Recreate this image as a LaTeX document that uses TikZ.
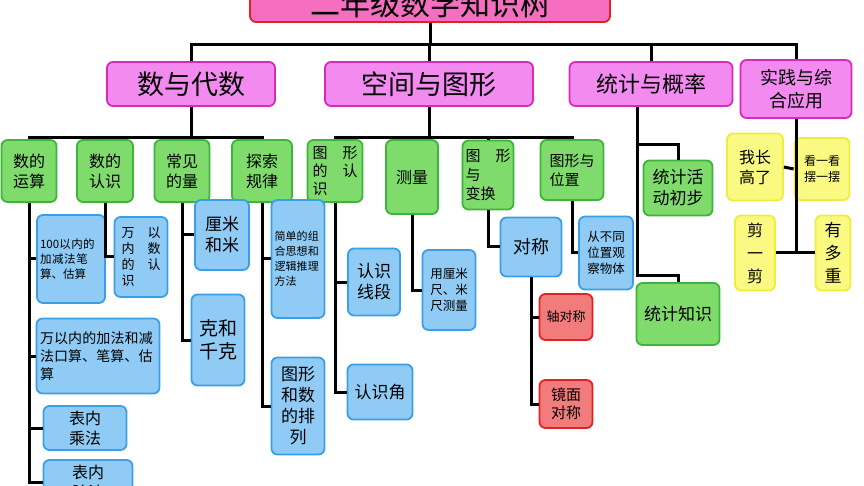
\documentclass[tikz,border=0pt]{standalone}
\usepackage{fontspec}
\setmainfont{Noto Sans CJK SC}
\XeTeXlinebreaklocale "zh"
\XeTeXlinebreakskip=0pt plus 1pt
\usetikzlibrary{positioning}
\definecolor{lgreen}{HTML}{7FDB6C}
\definecolor{dgreen}{HTML}{3DB53A}
\definecolor{lblue}{HTML}{8FCBF5}
\definecolor{dblue}{HTML}{3A9FE6}
\definecolor{lred}{HTML}{F27C7C}
\definecolor{dred}{HTML}{E02222}
\definecolor{lyel}{HTML}{FAFA82}
\definecolor{dyel}{HTML}{EEEE3A}
\definecolor{lmag}{HTML}{F28AF0}
\definecolor{dmag}{HTML}{D82AB8}
\tikzset{
  box/.style={rounded corners=6pt,line width=1.8pt,align=center,inner sep=1pt,font=\fontsize{16}{20}\selectfont},
  topbox/.style={box,fill=lmag,draw=dmag,font=\fontsize{27}{30}\selectfont},
  greenbox/.style={box,fill=lgreen,draw=dgreen},
  bluebox/.style={box,fill=lblue,draw=dblue},
  redbox/.style={box,fill=lred,draw=dred,font=\fontsize{13}{16}\selectfont},
  yelbox/.style={box,fill=lyel,draw=dyel},
  link/.style={line width=3pt,black}
}
\begin{document}
\begin{tikzpicture}[x=1pt,y=-1pt]
\useasboundingbox (0,0) rectangle (864,486);
\begin{scope}
\clip (0,0) rectangle (864,486);
% trunk and first level
\node[box,fill=lmag!80!red,draw=dred,minimum width=360pt,minimum height=36pt,font=\fontsize{30}{32}\selectfont] (title) at (430,4) {二年级数学知识树};
\node[topbox,minimum width=168pt,minimum height=44pt] (sd) at (191,84) {数与代数};
\node[topbox,minimum width=208pt,minimum height=44pt] (kj) at (429,84) {空间与图形};
\node[topbox,minimum width=163pt,minimum height=44pt,font=\fontsize{22}{24}\selectfont] (tj) at (651,84) {统计与概率};
\node[topbox,minimum width=111pt,minimum height=58pt,font=\fontsize{18}{23}\selectfont] (sj) at (796,89) {实践与综\\合应用};
% second level
\node[greenbox,minimum width=55pt,minimum height=62pt] (ys) at (29,171) {数的\\运算};
\node[greenbox,minimum width=56pt,minimum height=62pt] (rs) at (105,171) {数的\\认识};
\node[greenbox,minimum width=55pt,minimum height=62pt] (cl) at (182,171) {常见\\的量};
\node[greenbox,minimum width=60pt,minimum height=62pt] (gl) at (262,171) {探索\\规律};
\node[greenbox,minimum width=55pt,minimum height=62pt,font=\fontsize{15}{18}\selectfont] (tx) at (335,171) {图\quad 形\\的\quad 认\\识\hphantom{\quad 认}};
\node[greenbox,minimum width=52pt,minimum height=74pt] (cz) at (412,177) {测量};
\node[greenbox,minimum width=51pt,minimum height=69pt,font=\fontsize{15}{19}\selectfont] (bh) at (488,175) {图\quad 形\\与\hphantom{\quad 形}\\变换\hphantom{形}};
\node[greenbox,minimum width=63pt,minimum height=60pt,font=\fontsize{15}{19}\selectfont] (wz) at (572,170) {图形与\\位置\hphantom{与}};
\node[greenbox,minimum width=69pt,minimum height=55pt,font=\fontsize{17}{21}\selectfont] (hd) at (678,188) {统计活\\动初步};
\node[greenbox,minimum width=83pt,minimum height=62pt,font=\fontsize{17}{21}\selectfont] (zs) at (678,314) {统计知识};
\node[yelbox,minimum width=56pt,minimum height=67pt] (zg) at (755,167) {我长\\高了};
\node[yelbox,minimum width=55pt,minimum height=62pt,font=\fontsize{12}{16}\selectfont] (kk) at (822,169) {看一看\\摆一摆};
\node[yelbox,minimum width=40pt,minimum height=75pt,font=\fontsize{16}{23}\selectfont] (jj) at (755,253) {剪\\一\\剪};
\node[yelbox,minimum width=35pt,minimum height=75pt,font=\fontsize{17}{23}\selectfont] (dz) at (833,253) {有\\多\\重};
% third level
\node[bluebox,minimum width=68pt,minimum height=88pt,text width=62pt,align=left,font=\fontsize{11.5}{15}\selectfont] (jf) at (71,259) {100以内的加减法笔算、估算};
\node[bluebox,minimum width=123pt,minimum height=75pt,text width=116pt,align=left,font=\fontsize{14}{18}\selectfont] (wj) at (98,356) {万以内的加法和减法口算、笔算、估算};
\node[bluebox,minimum width=83pt,minimum height=44pt] (cf) at (85,428) {表内\\乘法};
\node[bluebox,minimum width=89pt,minimum height=44pt] (cc) at (88,482) {表内\\除法};
\node[bluebox,minimum width=53pt,minimum height=80pt,font=\fontsize{13}{16}\selectfont] (ws) at (141,257) {万\quad 以\\内\quad 数\\的\quad 认\\识\hphantom{\quad 认}};
\node[bluebox,minimum width=54pt,minimum height=70pt,font=\fontsize{17}{21}\selectfont] (lm) at (222,235) {厘米\\和米};
\node[bluebox,minimum width=53pt,minimum height=91pt,font=\fontsize{19}{23}\selectfont] (kq) at (218,340) {克和\\千克};
\node[bluebox,minimum width=53pt,minimum height=118pt,text width=47pt,align=left,font=\fontsize{11}{15}\selectfont] (jd) at (298,259) {简单的组合思想和逻辑推理方法};
\node[bluebox,minimum width=53pt,minimum height=97pt,font=\fontsize{17}{21}\selectfont] (pl) at (298,406) {图形\\和数\\的排\\列};
\node[bluebox,minimum width=52pt,minimum height=67pt,font=\fontsize{17}{21}\selectfont] (xd) at (374,282) {认识\\线段};
\node[bluebox,minimum width=65pt,minimum height=55pt,font=\fontsize{17}{21}\selectfont] (jiao) at (380,392) {认识角};
\node[bluebox,minimum width=53pt,minimum height=80pt,font=\fontsize{12.5}{16}\selectfont] (cl2) at (449,290) {用厘米\\尺、米\\尺测量};
\node[bluebox,minimum width=61pt,minimum height=59pt,font=\fontsize{18}{21}\selectfont] (dc) at (531,247) {对称};
\node[bluebox,minimum width=54pt,minimum height=73pt,font=\fontsize{12.5}{16}\selectfont] (gc) at (606,253) {从不同\\位置观\\察物体};
\node[redbox,minimum width=53pt,minimum height=46pt] (zd) at (566,317) {轴对称};
\node[redbox,minimum width=53pt,minimum height=48pt,font=\fontsize{15}{18}\selectfont] (jm) at (566,404) {镜面\\对称};
% connectors
\coordinate (bar0) at (0,45);
\coordinate (bar1) at (0,138);
\draw[link] (title.south) -- (title.south |- bar0);
\foreach \c in {sd,kj,tj,sj}
  \draw[link] (title.south |- bar0) -| (\c.north);
\draw[link] (sd.south) -- (sd.south |- bar1);
\foreach \c in {ys,rs,cl,gl}
  \draw[link] (sd.south |- bar1) -| (\c.north);
\draw[link] (kj.south) -- (kj.south |- bar1);
\foreach \c in {tx,cz,bh,wz}
  \draw[link] (kj.south |- bar1) -| (\c.north);
\draw[link] (tj.south -| 637,0) |- (645,145) -| (hd.north);
\draw[link] (tj.south -| 637,0) |- (665,275) -| (zs.north);
\draw[link] (sj.south) -- (sj.south |- jj.east);
\draw[link] (zg.east) -- (kk.west);
\draw[link] (jj.east) -- (dz.west);
\foreach \c in {jf,wj,cf,cc}
  \draw[link] (ys.south) |- (\c.west);
\draw[link] (rs.south) |- (ws.west);
\foreach \c in {lm,kq}
  \draw[link] (cl.south) |- (\c.west);
\foreach \c in {jd,pl}
  \draw[link] (gl.south) |- (\c.west);
\foreach \c in {xd,jiao}
  \draw[link] (tx.south) |- (\c.west);
\draw[link] (cz.south) |- (cl2.west);
\draw[link] (bh.south) |- (dc.west);
\draw[link] (wz.south) |- (gc.west);
\foreach \c in {zd,jm}
  \draw[link] (dc.south) |- (\c.west);
\end{scope}
\end{tikzpicture}
\end{document}
